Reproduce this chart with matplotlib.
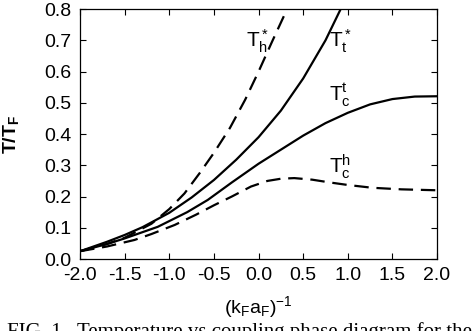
import matplotlib.pyplot as plt
import numpy as np

plt.rcParams['font.family'] = ['Liberation Sans', 'DejaVu Sans']
plt.rcParams['mathtext.fontset'] = 'custom'
plt.rcParams['mathtext.rm'] = 'Liberation Sans'
plt.rcParams['mathtext.it'] = 'Liberation Sans'
plt.rcParams['mathtext.bf'] = 'Liberation Sans:bold'

# T_h^* (dashed)
x_hstar = [-2.0, -1.7, -1.5, -1.2, -1.0, -0.83, -0.66, -0.5, -0.32, -0.15, 0.0, 0.15, 0.32]
y_hstar = [0.025, 0.048, 0.068, 0.113, 0.16, 0.21, 0.275, 0.34, 0.42, 0.51, 0.60, 0.695, 0.80]

# T_t^* (solid)
x_tstar = [-2.0, -1.7, -1.5, -1.3, -1.0, -0.75, -0.5, -0.25, 0.0, 0.25, 0.5, 0.75, 0.92]
y_tstar = [0.025, 0.055, 0.077, 0.102, 0.148, 0.197, 0.253, 0.318, 0.39, 0.475, 0.578, 0.70, 0.80]

# T_c^t (solid)
x_ct = [-2.0, -1.7, -1.5, -1.13, -0.8, -0.57, -0.3, 0.0, 0.25, 0.5, 0.75, 1.0, 1.25, 1.5, 1.75, 2.0]
y_ct = [0.025, 0.048, 0.066, 0.103, 0.15, 0.189, 0.245, 0.305, 0.35, 0.395, 0.435, 0.468, 0.495, 0.512, 0.52, 0.521]

# T_c^h (dashed)
x_ch = [-2.0, -1.7, -1.39, -1.2, -0.94, -0.7, -0.5, -0.3, -0.085, 0.1, 0.25, 0.4, 0.6, 0.8, 1.0, 1.275, 1.6, 2.0]
y_ch = [0.025, 0.04, 0.061, 0.08, 0.109, 0.142, 0.172, 0.2, 0.232, 0.25, 0.257, 0.259, 0.254, 0.245, 0.237, 0.228, 0.223, 0.22]

xticks = [-2.0, -1.5, -1.0, -0.5, 0.0, 0.5, 1.0, 1.5, 2.0]
yticks = [0.0, 0.1, 0.2, 0.3, 0.4, 0.5, 0.6, 0.7, 0.8]

fig = plt.figure(figsize=(4.74, 3.31), dpi=100)
ax = fig.add_axes([0.169, 0.2175, 0.753, 0.755])

ax.plot(x_hstar, y_hstar, color='black', lw=1.6, dashes=(6.5, 3.5))
ax.plot(x_tstar, y_tstar, color='black', lw=1.6)
ax.plot(x_ct, y_ct, color='black', lw=1.6)
ax.plot(x_ch, y_ch, color='black', lw=1.6, dashes=(6.5, 3.5))

ax.set_xlim(-2.0, 2.0)
ax.set_ylim(0.0, 0.8)
ax.set_xticks(xticks)
ax.set_yticks(yticks)
ax.set_xticklabels(['%.1f' % v for v in xticks])
ax.set_yticklabels(['%.1f' % v for v in yticks])
ax.tick_params(direction='in', top=True, right=True, length=4.5, width=0.8, labelsize=14, pad=6)
for s in ax.spines.values():
    s.set_linewidth(0.9)

ax.text(-0.14, 0.678, r'$\mathregular{T_h^*}$', fontsize=15, ha='left', va='baseline')
ax.text(0.79, 0.678, r'$\mathregular{T_t^*}$', fontsize=15, ha='left', va='baseline')
ax.text(0.79, 0.509, r'$\mathregular{T_c^t}$', fontsize=15, ha='left', va='baseline')
ax.text(0.79, 0.275, r'$\mathregular{T_c^h}$', fontsize=15, ha='left', va='baseline')

ax.set_xlabel(r'$\mathregular{(k_F a_F)^{-1}}$', fontsize=14, labelpad=7)
fig.text(0.024, 0.595, r'$\mathbf{T/T_F}$', fontsize=14, rotation=90, ha='center', va='center')

fig.text(0.015, 0.027, 'FIG. 1.  Temperature vs coupling phase diagram for the',
         fontsize=15, family='Liberation Serif', ha='left', va='top')

fig.savefig('out.png', dpi=100)
